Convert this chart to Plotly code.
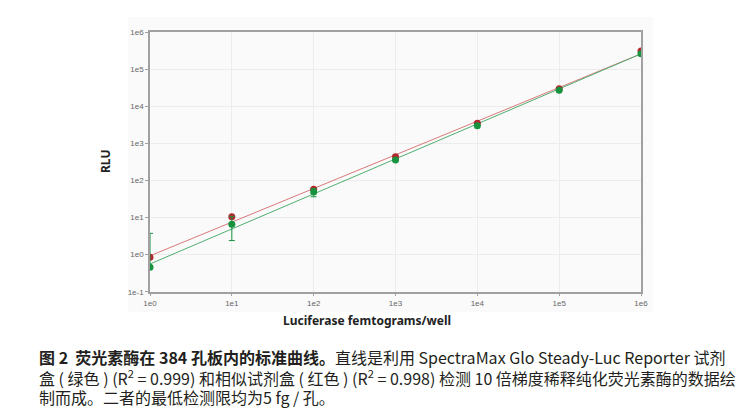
import plotly.graph_objects as go

# luciferase amount (fg/well), 10-fold dilutions
femtograms = [1, 10, 100, 1000, 10000, 100000, 1000000]

rlu_red = [0.85, 10.5, 58, 440, 3500, 30000, 313000]
rlu_green = [0.46, 6.6, 49, 358, 3010, 27200, 263000]
green_err_plus = [3.3, 4.2, 12.5, 0, 0, 0, 0]
green_err_minus = [0, 4.2, 12.5, 0, 0, 0, 0]

# fitted standard curves (end points)
fit_x = [1, 1000000]
fit_red = [0.93, 262000]
fit_green = [0.56, 262000]

x_ticks = [1, 10, 100, 1000, 10000, 100000, 1000000]
x_ticklabels = ["1e0", "1e1", "1e2", "1e3", "1e4", "1e5", "1e6"]
y_ticks = [0.1, 1, 10, 100, 1000, 10000, 100000, 1000000]
y_ticklabels = ["1e-1", "1e0", "1e1", "1e2", "1e3", "1e4", "1e5", "1e6"]

caption_lines = [
    "<b>图 2  荧光素酶在 384 孔板内的标准曲线。</b>直线是利用 SpectraMax Glo Steady-Luc Reporter 试剂",
    "盒 ( 绿色 ) (R<sup>2</sup> = 0.999) 和相似试剂盒 ( 红色 ) (R<sup>2</sup> = 0.998) 检测 10 倍梯度稀释纯化荧光素酶的数据绘",
    "制而成。二者的最低检测限均为5 fg / 孔。",
]

RED = "#b3282d"
RED_LINE = "#d9797a"
GREEN = "#17923f"
GREEN_LINE = "#4fae70"

# the page body has an 8px margin, so the figure is drawn 8px in from the corner
OFF = 8
W, H = 745 - OFF, 420 - OFF


def px(x):
    return (x - OFF) / W


def py(y):
    return (H - (y - OFF)) / H


fig = go.Figure()

fig.add_trace(go.Scatter(x=fit_x, y=fit_red, mode="lines",
                         line=dict(color=RED_LINE, width=1), hoverinfo="skip"))
fig.add_trace(go.Scatter(x=fit_x, y=fit_green, mode="lines",
                         line=dict(color=GREEN_LINE, width=1), hoverinfo="skip"))
fig.add_trace(go.Scatter(x=femtograms, y=rlu_red, mode="markers",
                         marker=dict(color=RED, size=7)))
fig.add_trace(go.Scatter(
    x=femtograms, y=rlu_green, mode="markers",
    marker=dict(color=GREEN, size=7),
    error_y=dict(type="data", array=green_err_plus, arrayminus=green_err_minus,
                 color=GREEN, thickness=1, width=3),
))

axis_common = dict(
    type="log", automargin=False,
    showline=True, mirror=True, linecolor="#a0a0a0", linewidth=1.5,
    showgrid=True, gridcolor="#ececec", gridwidth=1, zeroline=False,
    ticks="outside", ticklen=3, tickcolor="#a0a0a0",
    tickfont=dict(family="Liberation Sans", size=8, color="#666666"),
)

fig.update_layout(
    width=W, height=H,
    margin=dict(l=0, r=0, t=0, b=0, autoexpand=False),
    paper_bgcolor="white",
    plot_bgcolor="white",
    showlegend=False,
    xaxis=dict(axis_common, domain=[px(150), px(641)], range=[0, 6],
               tickvals=x_ticks, ticktext=x_ticklabels),
    yaxis=dict(axis_common, domain=[py(291.7), py(32.3)], range=[-1, 6],
               tickvals=y_ticks, ticktext=y_ticklabels),
)

# faint background of the embedded chart image
fig.add_shape(type="rect", xref="paper", yref="paper",
              x0=px(128), x1=px(653), y0=py(312), y1=py(17),
              fillcolor="#fafafa", line=dict(width=0), layer="below")

fig.add_annotation(text="<b>RLU</b>", xref="paper", yref="paper",
                   x=px(106), y=py(161), xanchor="center", yanchor="middle",
                   showarrow=False, textangle=-90,
                   font=dict(family="Noto Sans", size=12, color="#222222"))
fig.add_annotation(text="<b>Luciferase femtograms/well</b>", xref="paper", yref="paper",
                   x=px(367), y=py(320), xanchor="center", yanchor="middle",
                   showarrow=False,
                   font=dict(family="Noto Sans", size=12, color="#222222"))

# caption, one annotation per line to keep the tight 20px line spacing
for i, line in enumerate(caption_lines):
    fig.add_annotation(text=line, xref="paper", yref="paper",
                       x=px(37), y=py(357 + i * 20),
                       xanchor="left", yanchor="middle", showarrow=False, align="left",
                       font=dict(family="Noto Sans CJK SC", size=16, color="#231f20"))

fig.write_html("out.html")
